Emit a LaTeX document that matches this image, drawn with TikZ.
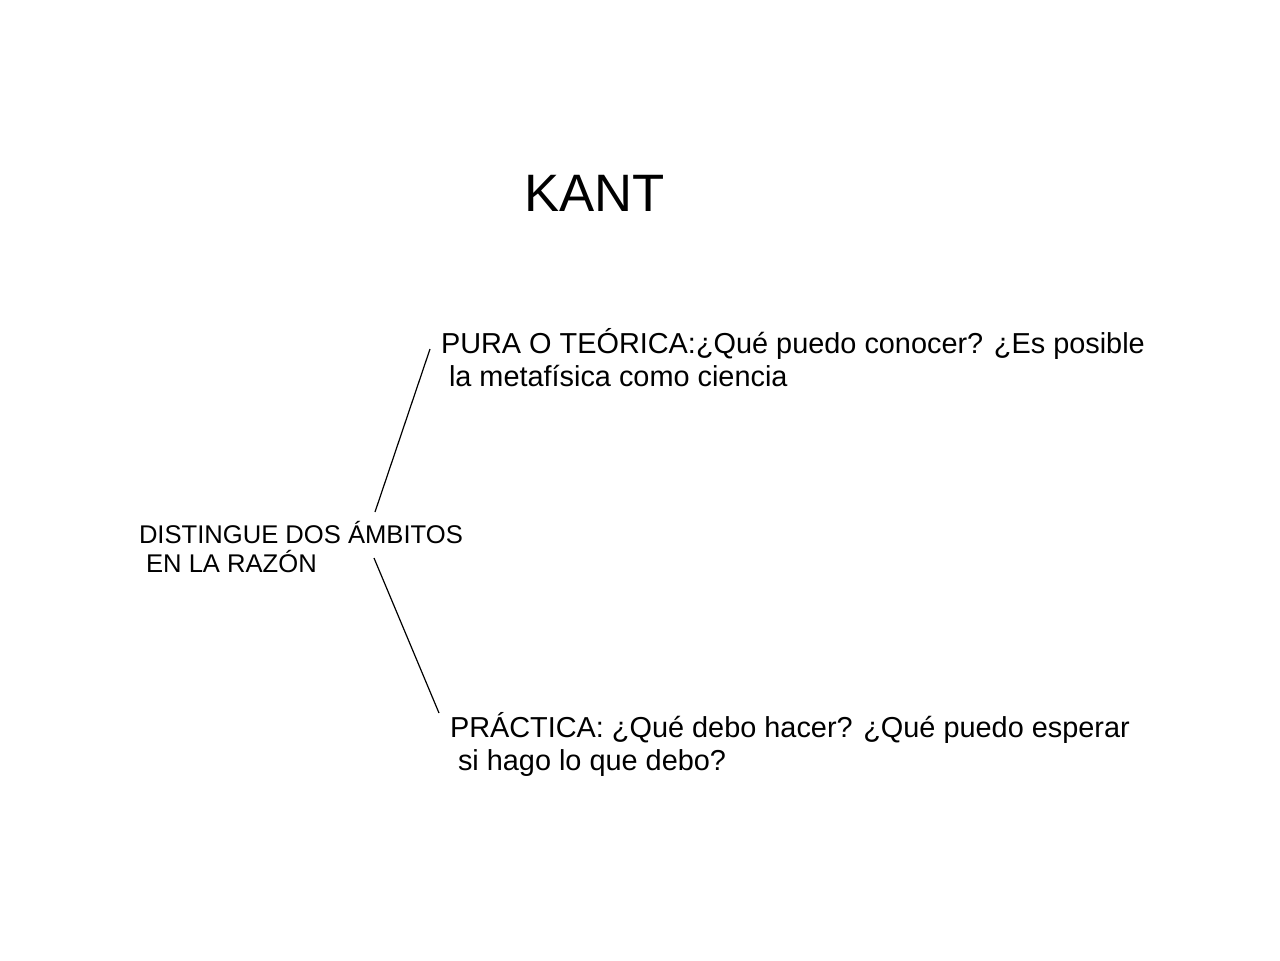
\documentclass[tikz,border=0pt]{standalone}
\usepackage{fontspec}
\setmainfont{Liberation Sans}
\begin{document}
\begin{tikzpicture}[x=0.75pt,y=-0.75pt,
  txt/.style={inner sep=0pt,outer sep=0pt,anchor=base west,align=left},
  conn/.style={line width=0.9pt,black}]
\useasboundingbox[fill=white] (0,0) rectangle (1280,960);
\node[txt,font=\fontsize{39.5}{48}\selectfont] (kant) at (524,211) {KANT};
\node[txt,font=\fontsize{21.65}{24.75}\selectfont] (pura) at (441,386)
  {PURA O TEÓRICA:¿Qué puedo conocer? ¿Es posible\\\mbox{} la metafísica como ciencia};
\node[txt,font=\fontsize{19.2}{21.75}\selectfont] (dist) at (139,572)
  {DISTINGUE DOS ÁMBITOS\\\mbox{} EN LA RAZÓN};
\node[txt,font=\fontsize{21.65}{24.75}\selectfont] (prac) at (450,770)
  {PRÁCTICA: ¿Qué debo hacer? ¿Qué puedo esperar\\\mbox{} si hago lo que debo?};
\coordinate (a1) at (375,512);
\coordinate (a2) at (430,349);
\coordinate (b1) at (374,558);
\coordinate (b2) at (439,713);
\draw[conn] (a1) -- (a2);
\draw[conn] (b1) -- (b2);
\end{tikzpicture}
\end{document}
